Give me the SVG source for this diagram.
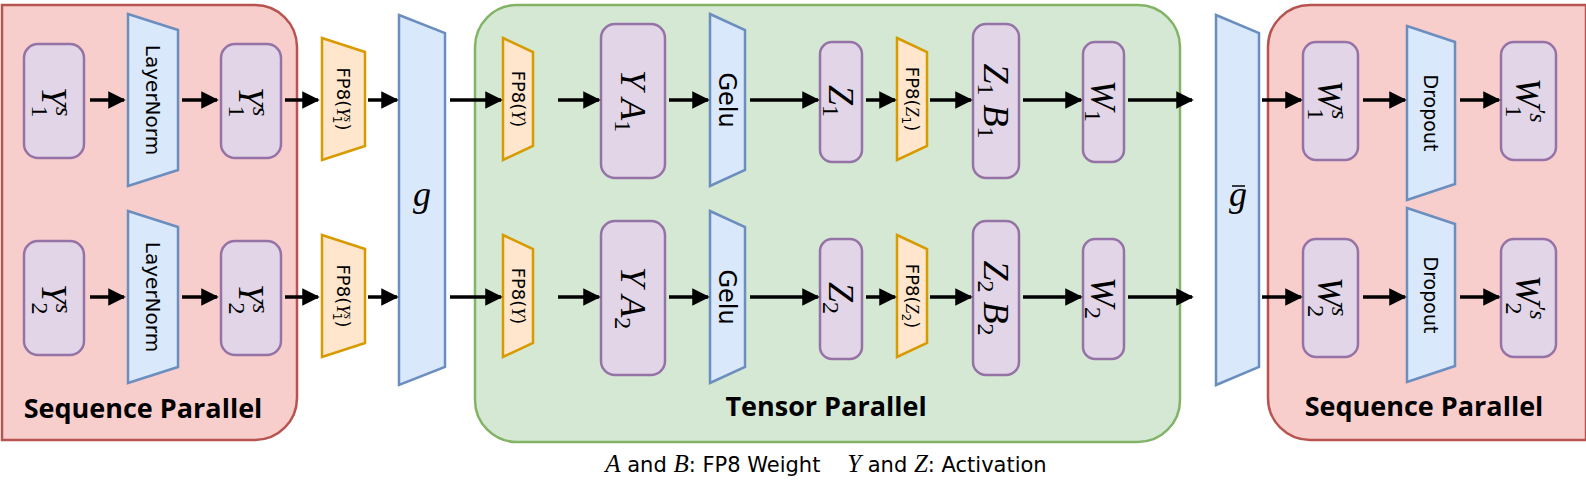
<svg xmlns="http://www.w3.org/2000/svg" width="1586" height="485" viewBox="0 0 1586 485">
<style>
.sp{fill:#f8cecc;stroke:#b85450;stroke-width:2.5}
.tp{fill:#d5e8d4;stroke:#82b366;stroke-width:2.5}
.v{fill:#e1d5e7;stroke:#9673a6;stroke-width:2.5}
.b{fill:#dae8fc;stroke:#6c8ebf;stroke-width:2.5}
.o{fill:#ffe6cc;stroke:#d79b00;stroke-width:2.5}
.t{font-family:"DejaVu Sans",sans-serif;font-size:20px;fill:#000}
.f{font-family:"DejaVu Sans",sans-serif;font-size:18px;fill:#000}
.fm{font-family:"Liberation Serif",serif;font-style:italic}
.h{font-family:"Open Sans",sans-serif;font-weight:bold;font-size:27px;fill:#000}
.c{fill:none;stroke:#000;stroke-width:3.5;marker-end:url(#a)}
</style>
<defs>
<marker id="a" viewBox="0 0 10 10" refX="9" refY="5" markerWidth="5" markerHeight="5" orient="auto"><path d="M0,0L10,5L0,10z" fill="#000"/></marker>
</defs>
<rect width="1586" height="485" fill="#fff"/>
<g id="seq-left"><path class="sp" d="M2,5H255A42,42 0 0 1 297,47V398A42,42 0 0 1 255,440H2Z"/><text class="h" x="143" y="418" text-anchor="middle">Sequence Parallel</text></g>
<g id="tensor"><rect class="tp" x="475" y="5" width="705" height="437" rx="42"/><text class="h" x="826" y="416" text-anchor="middle">Tensor Parallel</text></g>
<g id="seq-right"><path class="sp" d="M1586,5H1310A42,42 0 0 0 1268,47V398A42,42 0 0 0 1310,440H1586Z"/><text class="h" x="1424" y="416" text-anchor="middle">Sequence Parallel</text></g>

<g id="n1"><rect class="v" x="24" y="44" width="60" height="114" rx="14"/><text transform="translate(54,101) rotate(90)" x="-14" y="12" font-family="Liberation Serif,serif" font-style="italic" font-size="36">Y<tspan font-size="24" dy="-14">s</tspan><tspan font-size="24" font-style="normal" dx="-11" dy="24">1</tspan></text></g>
<g id="n2"><path class="b" d="M128,14L178,30V170L128,186Z"/><text class="t" transform="translate(153,100) rotate(90)" y="7" text-anchor="middle">LayerNorm</text></g>
<g id="n3"><rect class="v" x="221" y="44" width="60" height="114" rx="14"/><text transform="translate(251,101) rotate(90)" x="-14" y="12" font-family="Liberation Serif,serif" font-style="italic" font-size="36">Y<tspan font-size="24" dy="-14">s</tspan><tspan font-size="24" font-style="normal" dx="-11" dy="24">1</tspan></text></g>
<g id="n4"><path class="o" d="M322,38L365,52V146L322,160Z"/><text class="f" transform="translate(343,99) rotate(90)" y="6" text-anchor="middle">FP8(<tspan class="fm">Y</tspan><tspan class="fm" font-size="12" dy="-7">s</tspan><tspan font-size="12" dx="-6" dy="11">1</tspan><tspan dy="-4">)</tspan></text></g>

<g id="n5"><rect class="v" x="24" y="241" width="60" height="114" rx="14"/><text transform="translate(54,298) rotate(90)" x="-14" y="12" font-family="Liberation Serif,serif" font-style="italic" font-size="36">Y<tspan font-size="24" dy="-14">s</tspan><tspan font-size="24" font-style="normal" dx="-11" dy="24">2</tspan></text></g>
<g id="n6"><path class="b" d="M128,211L178,227V367L128,383Z"/><text class="t" transform="translate(153,297) rotate(90)" y="7" text-anchor="middle">LayerNorm</text></g>
<g id="n7"><rect class="v" x="221" y="241" width="60" height="114" rx="14"/><text transform="translate(251,298) rotate(90)" x="-14" y="12" font-family="Liberation Serif,serif" font-style="italic" font-size="36">Y<tspan font-size="24" dy="-14">s</tspan><tspan font-size="24" font-style="normal" dx="-11" dy="24">2</tspan></text></g>
<g id="n8"><path class="o" d="M322,235L365,249V343L322,357Z"/><text class="f" transform="translate(343,296) rotate(90)" y="6" text-anchor="middle">FP8(<tspan class="fm">Y</tspan><tspan class="fm" font-size="12" dy="-7">s</tspan><tspan font-size="12" dx="-6" dy="11">1</tspan><tspan dy="-4">)</tspan></text></g>

<g id="g"><path class="b" d="M399,15L445,33V367L399,385Z"/><text x="422" y="206" text-anchor="middle" font-family="Liberation Serif,serif" font-style="italic" font-size="36">g</text></g>

<g id="n9"><path class="o" d="M503,38L533,52V146L503,160Z"/><text class="f" transform="translate(518,99) rotate(90)" y="6" text-anchor="middle">FP8(<tspan class="fm">Y</tspan>)</text></g>
<g id="n10"><rect class="v" x="601" y="24" width="64" height="154" rx="14"/><text transform="translate(633,101) rotate(90)" y="12" text-anchor="middle" font-family="Liberation Serif,serif" font-style="italic" font-size="36">Y A<tspan font-size="24" font-style="normal" dy="6">1</tspan></text></g>
<g id="n11"><path class="b" d="M710,14L745,30V170L710,186Z"/><text class="t" style="font-size:24px" transform="translate(727,100) rotate(90)" y="8" text-anchor="middle">Gelu</text></g>
<g id="n12"><rect class="v" x="820" y="42" width="42" height="120" rx="12"/><text transform="translate(841,101) rotate(90)" y="12" text-anchor="middle" font-family="Liberation Serif,serif" font-style="italic" font-size="36">Z<tspan font-size="24" font-style="normal" dy="6">1</tspan></text></g>
<g id="n13"><path class="o" d="M897,38L927,52V146L897,160Z"/><text class="f" transform="translate(912,99) rotate(90)" y="6" text-anchor="middle">FP8(<tspan class="fm">Z</tspan><tspan font-size="12" dy="4">1</tspan><tspan dy="-4">)</tspan></text></g>
<g id="n14"><rect class="v" x="973" y="24" width="46" height="154" rx="13"/><text transform="translate(996,101) rotate(90)" y="12" text-anchor="middle" font-family="Liberation Serif,serif" font-style="italic" font-size="36">Z<tspan font-size="24" font-style="normal" dy="6">1</tspan><tspan dy="-6"> B</tspan><tspan font-size="24" font-style="normal" dy="6">1</tspan></text></g>
<g id="n15"><rect class="v" x="1083" y="42" width="41" height="120" rx="12"/><text transform="translate(1103,101) rotate(90)" y="12" text-anchor="middle" font-family="Liberation Serif,serif" font-style="italic" font-size="36">W<tspan font-size="24" font-style="normal" dy="6">1</tspan></text></g>

<g id="n16"><path class="o" d="M503,235L533,249V343L503,357Z"/><text class="f" transform="translate(518,296) rotate(90)" y="6" text-anchor="middle">FP8(<tspan class="fm">Y</tspan>)</text></g>
<g id="n17"><rect class="v" x="601" y="221" width="64" height="154" rx="14"/><text transform="translate(633,298) rotate(90)" y="12" text-anchor="middle" font-family="Liberation Serif,serif" font-style="italic" font-size="36">Y A<tspan font-size="24" font-style="normal" dy="6">2</tspan></text></g>
<g id="n18"><path class="b" d="M710,211L745,227V367L710,383Z"/><text class="t" style="font-size:24px" transform="translate(727,297) rotate(90)" y="8" text-anchor="middle">Gelu</text></g>
<g id="n19"><rect class="v" x="820" y="239" width="42" height="120" rx="12"/><text transform="translate(841,298) rotate(90)" y="12" text-anchor="middle" font-family="Liberation Serif,serif" font-style="italic" font-size="36">Z<tspan font-size="24" font-style="normal" dy="6">2</tspan></text></g>
<g id="n20"><path class="o" d="M897,235L927,249V343L897,357Z"/><text class="f" transform="translate(912,296) rotate(90)" y="6" text-anchor="middle">FP8(<tspan class="fm">Z</tspan><tspan font-size="12" dy="4">2</tspan><tspan dy="-4">)</tspan></text></g>
<g id="n21"><rect class="v" x="973" y="221" width="46" height="154" rx="13"/><text transform="translate(996,298) rotate(90)" y="12" text-anchor="middle" font-family="Liberation Serif,serif" font-style="italic" font-size="36">Z<tspan font-size="24" font-style="normal" dy="6">2</tspan><tspan dy="-6"> B</tspan><tspan font-size="24" font-style="normal" dy="6">2</tspan></text></g>
<g id="n22"><rect class="v" x="1083" y="239" width="41" height="120" rx="12"/><text transform="translate(1103,298) rotate(90)" y="12" text-anchor="middle" font-family="Liberation Serif,serif" font-style="italic" font-size="36">W<tspan font-size="24" font-style="normal" dy="6">2</tspan></text></g>

<g id="gbar"><path class="b" d="M1216,15L1259,33V367L1216,385Z"/><text x="1238" y="206" text-anchor="middle" font-family="Liberation Serif,serif" font-style="italic" font-size="36">g</text><line x1="1232" y1="186" x2="1245" y2="186" stroke="#000" stroke-width="1.5"/></g>

<g id="n23"><rect class="v" x="1303" y="42" width="55" height="118" rx="13"/><text transform="translate(1330,100) rotate(90)" x="-20" y="12" font-family="Liberation Serif,serif" font-style="italic" font-size="36">W<tspan font-size="24" dy="-14">s</tspan><tspan font-size="24" font-style="normal" dx="-11" dy="24">1</tspan></text></g>
<g id="n24"><path class="b" d="M1407,26L1455,42V184L1407,200Z"/><text class="t" style="font-size:19px" transform="translate(1431,113) rotate(90)" y="7" text-anchor="middle">Dropout</text></g>
<g id="n25"><rect class="v" x="1501" y="42" width="55" height="118" rx="13"/><text transform="translate(1528,100) rotate(90)" x="-22" y="12" font-family="Liberation Serif,serif" font-style="italic" font-size="36">W<tspan font-size="24" dy="-14">′s</tspan><tspan font-size="24" font-style="normal" dx="-17" dy="24">1</tspan></text></g>
<g id="n26"><rect class="v" x="1303" y="239" width="55" height="118" rx="13"/><text transform="translate(1330,297) rotate(90)" x="-20" y="12" font-family="Liberation Serif,serif" font-style="italic" font-size="36">W<tspan font-size="24" dy="-14">s</tspan><tspan font-size="24" font-style="normal" dx="-11" dy="24">2</tspan></text></g>
<g id="n27"><path class="b" d="M1407,208L1455,224V366L1407,382Z"/><text class="t" style="font-size:19px" transform="translate(1431,295) rotate(90)" y="7" text-anchor="middle">Dropout</text></g>
<g id="n28"><rect class="v" x="1501" y="239" width="55" height="118" rx="13"/><text transform="translate(1528,297) rotate(90)" x="-22" y="12" font-family="Liberation Serif,serif" font-style="italic" font-size="36">W<tspan font-size="24" dy="-14">′s</tspan><tspan font-size="24" font-style="normal" dx="-17" dy="24">2</tspan></text></g>

<g id="connectors">
<path class="c" d="M90,100H124"/><path class="c" d="M182,100H217"/><path class="c" d="M285,100H318"/><path class="c" d="M368,100H397"/>
<path class="c" d="M450,100H501"/><path class="c" d="M558,100H599"/><path class="c" d="M669,100H708"/><path class="c" d="M750,100H818"/><path class="c" d="M866,100H895"/><path class="c" d="M930,100H971"/><path class="c" d="M1023,100H1081"/><path class="c" d="M1128,100H1192"/>
<path class="c" d="M1262,100H1301"/><path class="c" d="M1363,100H1405"/><path class="c" d="M1460,100H1499"/>
<path class="c" d="M90,297H124"/><path class="c" d="M182,297H217"/><path class="c" d="M285,297H318"/><path class="c" d="M368,297H397"/>
<path class="c" d="M450,297H501"/><path class="c" d="M558,297H599"/><path class="c" d="M669,297H708"/><path class="c" d="M750,297H818"/><path class="c" d="M866,297H895"/><path class="c" d="M930,297H971"/><path class="c" d="M1023,297H1081"/><path class="c" d="M1128,297H1192"/>
<path class="c" d="M1262,297H1301"/><path class="c" d="M1363,297H1405"/><path class="c" d="M1460,297H1499"/>
</g>
<text x="826" y="472" text-anchor="middle" font-family="DejaVu Sans,sans-serif" font-size="21" xml:space="preserve"><tspan class="fm" font-size="25">A</tspan> and <tspan class="fm" font-size="25">B</tspan>: FP8 Weight    <tspan class="fm" font-size="25">Y</tspan> and <tspan class="fm" font-size="25">Z</tspan>: Activation</text>
</svg>
